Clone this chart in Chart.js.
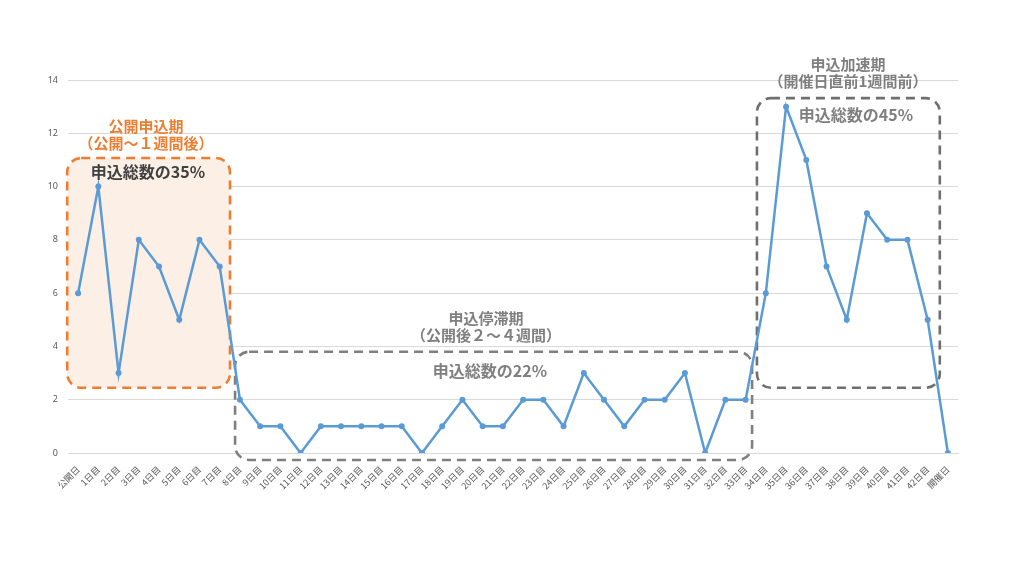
<!DOCTYPE html>
<html>
<head>
<meta charset="utf-8">
<script src="https://cdn.jsdelivr.net/npm/chart.js@4"></script>
<style>
html,body{margin:0;padding:0;background:#fff;}
#wrap{width:1024px;height:576px;}
</style>
</head>
<body>
<div id="wrap"><canvas id="c" width="1024" height="576"></canvas></div>
<script>
const categories = ['公開日','1日目','2日目','3日目','4日目','5日目','6日目','7日目','8日目','9日目','10日目','11日目','12日目','13日目','14日目','15日目','16日目','17日目','18日目','19日目','20日目','21日目','22日目','23日目','24日目','25日目','26日目','27日目','28日目','29日目','30日目','31日目','32日目','33日目','34日目','35日目','36日目','37日目','38日目','39日目','40日目','41日目','42日目','開催日'];
const applications = [6,10,3,8,7,5,8,7,2,1,1,0,1,1,1,1,1,0,1,2,1,1,2,2,1,3,2,1,2,2,3,0,2,2,6,13,11,7,5,9,8,8,5,0];
const yTicks = [0,2,4,6,8,10,12,14];

const phaseTitles = ['公開申込期','申込停滞期','申込加速期'];
const phaseSubtitles = ['（公開～１週間後）','（公開後２～４週間）','（開催日直前1週間前）'];
const phaseShares = ['申込総数の35%','申込総数の22%','申込総数の45%'];

// box ranges in category index / value units
const boxes = [
  {x0:-0.54, x1:7.51, y0:2.45, y1:11.07, stroke:'#ed7d31', fill:'#fbefe6', title:'#ed7d31', share:'#404040', tx:146, ty:126, sx:148, sy:172},
  {x0:7.76, x1:33.32, y0:-0.26, y1:3.8, stroke:'#7f7f7f', fill:null, title:'#7f7f7f', share:'#7f7f7f', tx:486, ty:318, sx:490, sy:371},
  {x0:33.56, x1:42.6, y0:2.45, y1:13.32, stroke:'#6f6f6f', fill:null, title:'#7f7f7f', share:'#7f7f7f', tx:848, ty:64, sx:856, sy:115}
];

function rr(ctx,x,y,w,h,r){
  ctx.beginPath();
  ctx.moveTo(x+r,y);
  ctx.lineTo(x+w-r,y);
  ctx.arcTo(x+w,y,x+w,y+r,r);
  ctx.lineTo(x+w,y+h-r);
  ctx.arcTo(x+w,y+h,x+w-r,y+h,r);
  ctx.lineTo(x+r,y+h);
  ctx.arcTo(x,y+h,x,y+h-r,r);
  ctx.lineTo(x,y+r);
  ctx.arcTo(x,y,x+r,y,r);
  ctx.closePath();
}

const boxPlugin = {
  id:'boxes',
  beforeDatasetsDraw(chart){
    const ctx = chart.ctx, xs = chart.scales.x, ys = chart.scales.y;
    const step = xs.getPixelForValue(1) - xs.getPixelForValue(0);
    ctx.save();
    boxes.forEach(b=>{
      const x0 = xs.getPixelForValue(0) + b.x0*step;
      const x1 = xs.getPixelForValue(0) + b.x1*step;
      const y0 = ys.getPixelForValue(b.y1);
      const y1 = ys.getPixelForValue(b.y0);
      rr(ctx,x0,y0,x1-x0,y1-y0,14);
      if(b.fill){ctx.fillStyle=b.fill;ctx.fill();}
      ctx.setLineDash([9,6]);
      ctx.lineWidth=2.6;
      ctx.strokeStyle=b.stroke;
      ctx.stroke();
    });
    ctx.restore();
  },
  afterDatasetsDraw(chart){
    const ctx = chart.ctx;
    ctx.save();
    ctx.textAlign='center';
    ctx.textBaseline='middle';
    boxes.forEach((b,i)=>{
      ctx.fillStyle=b.title;
      ctx.font='bold 15px "Noto Sans CJK JP"';
      ctx.fillText(phaseTitles[i], b.tx, b.ty);
      ctx.fillText(phaseSubtitles[i], b.tx, b.ty+17);
      ctx.fillStyle=b.share;
      ctx.font='bold 16px "Noto Sans CJK JP"';
      ctx.fillText(phaseShares[i], b.sx, b.sy);
    });
    ctx.restore();
  }
};

new Chart(document.getElementById('c'),{
  type:'line',
  data:{
    labels:categories,
    datasets:[{
      data:applications,
      borderColor:'#5b9bd5',
      backgroundColor:'#5b9bd5',
      borderWidth:2.5,
      pointRadius:3,
      pointBorderWidth:0,
      pointBackgroundColor:'#5b9bd5',
      tension:0
    }]
  },
  options:{
    responsive:false,
    animation:false,
    devicePixelRatio:1,
    layout:{padding:{left:0,right:66,top:80,bottom:0}},
    plugins:{legend:{display:false},tooltip:{enabled:false}},
    scales:{
      x:{
        offset:true,
        grid:{display:false},
        border:{color:'#d9d9d9'},
        ticks:{
          autoSkip:false,
          minRotation:45,maxRotation:45,
          color:'#595959',
          font:{size:9,family:'"Noto Sans CJK JP"'},
          padding:3
        },
        afterFit(s){s.height=123;}
      },
      y:{
        min:0,max:14,
        afterBuildTicks(s){s.ticks=yTicks.map(v=>({value:v}));},
        grid:{color:'#d9d9d9',drawTicks:false},
        border:{display:false},
        ticks:{color:'#595959',font:{size:9,family:'"Noto Sans"'},padding:10},
        afterFit(s){s.width=68;}
      }
    }
  },
  plugins:[boxPlugin]
});
</script>
</body>
</html>
